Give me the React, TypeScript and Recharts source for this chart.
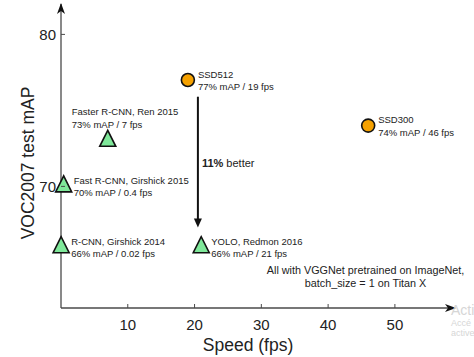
import {
  ScatterChart,
  Scatter,
  XAxis,
  YAxis,
  ReferenceLine,
  ReferenceDot
} from "recharts";

// detectors (speed in fps, VOC2007 test mAP)
const names = [
  "SSD512",
  "SSD300",
  "Faster R-CNN, Ren 2015",
  "Fast R-CNN, Girshick 2015",
  "R-CNN, Girshick 2014",
  "YOLO, Redmon 2016"
];
const details = [
  "77% mAP / 19 fps",
  "74% mAP / 46 fps",
  "73% mAP / 7 fps",
  "70% mAP / 0.4 fps",
  "66% mAP / 0.02 fps",
  "66% mAP / 21 fps"
];
const speeds = [19, 46, 7, 0.4, 0.02, 21];
const maps = [77, 74, 73, 70, 66, 66];
const isSSD = [true, true, false, false, false, false];

const xTicks = [10, 20, 30, 40, 50];
const yTicks = [70, 80];
const noteLines = [
  "All with VGGNet pretrained on ImageNet,",
  "batch_size = 1 on Titan X"
];
// faint leftover overlay text at the right edge
const watermark = ["Acti", "Accé", "active"];

const rows = names.map((name, i) => ({
  name,
  detail: details[i],
  speed: speeds[i],
  map: maps[i]
}));
const ssdRows = rows.filter((_, i) => isSSD[i]);
const otherRows = rows.filter((_, i) => !isSSD[i]);

const FONT = '"Liberation Sans", Arial, sans-serif';
const AXIS = "#4a4a4a";

// label placement (Faster R-CNN sits above its marker)
const labelPos = (name) =>
  name === "Faster R-CNN, Ren 2015" ? { dx: -36, dy: -29 } : { dx: 10, dy: -6 };

const PointLabel = ({ cx, cy, payload }) => {
  const { dx, dy } = labelPos(payload.name);
  return (
    <g fontFamily={FONT} fontSize={9.5} fill="#222">
      <text x={cx + dx} y={cy + dy} dominantBaseline="central">{payload.name}</text>
      <text x={cx + dx} y={cy + dy + 12.5} dominantBaseline="central">{payload.detail}</text>
    </g>
  );
};

const CircleShape = (props) => {
  const { cx, cy } = props;
  return (
    <g>
      <circle cx={cx} cy={cy} r={6.5} fill="#f5a100" stroke="#111" strokeWidth={1.6} />
      <PointLabel {...props} />
    </g>
  );
};

const TriangleShape = (props) => {
  const { cx, cy } = props;
  return (
    <g>
      <polygon
        points={`${cx},${cy - 10.5} ${cx - 8},${cy + 5.5} ${cx + 8},${cy + 5.5}`}
        fill="#7fe89a"
        stroke="#111"
        strokeWidth={1.6}
        strokeLinejoin="miter"
      />
      <PointLabel {...props} />
    </g>
  );
};

const XTick = ({ x, y, payload }) => (
  <g>
    <line x1={x} x2={x} y1={y} y2={y - 4} stroke={AXIS} strokeWidth={1} />
    <text x={x} y={y + 21.5} textAnchor="middle" fontFamily={FONT} fontSize={15} fill="#222">
      {payload.value}
    </text>
  </g>
);

const YTick = ({ x, y, payload }) => (
  <g>
    <line x1={x} x2={x + 4} y1={y} y2={y} stroke={AXIS} strokeWidth={1} />
    <text x={x - 5} y={y + 5.5} textAnchor="end" fontFamily={FONT} fontSize={15} fill="#222">
      {payload.value}
    </text>
  </g>
);

const XLabel = ({ viewBox }) => (
  <text
    x={viewBox.x + viewBox.width / 2 - 10}
    y={viewBox.y + 43}
    textAnchor="middle"
    fontFamily={FONT}
    fontSize={17.5}
    fill="#222"
  >
    Speed (fps)
  </text>
);

const YLabel = ({ viewBox }) => {
  const cx = viewBox.x + 28;
  const cy = viewBox.y + viewBox.height / 2 + 7;
  return (
    <text
      x={cx}
      y={cy}
      transform={`rotate(-90 ${cx} ${cy})`}
      textAnchor="middle"
      dominantBaseline="central"
      fontFamily={FONT}
      fontSize={17.5}
      fill="#222"
    >
      VOC2007 test mAP
    </text>
  );
};

const BetterArrow = ({ x1, y1, x2, y2 }) => {
  const midY = (y1 + y2) / 2;
  return (
    <g>
      <line x1={x1} y1={y1} x2={x2} y2={y2 - 8} stroke="#111" strokeWidth={2} />
      <polygon points={`${x2},${y2} ${x2 - 4},${y2 - 9} ${x2 + 4},${y2 - 9}`} fill="#111" />
      <text x={x1 + 4} y={midY + 1} dominantBaseline="central" fontFamily={FONT} fontSize={11} fill="#222">
        <tspan fontWeight="bold">11%</tspan> better
      </text>
    </g>
  );
};

const Note = ({ cx, cy }) => (
  <g fontFamily={FONT} fontSize={10.8} fill="#222" textAnchor="middle">
    <text x={cx} y={cy - 6.5} dominantBaseline="central">{noteLines[0]}</text>
    <text x={cx} y={cy + 6.5} dominantBaseline="central">{noteLines[1]}</text>
  </g>
);

const RightArrowHead = ({ cx, cy }) => (
  <polygon points={`${cx + 1},${cy} ${cx - 10},${cy - 4} ${cx - 7},${cy} ${cx - 10},${cy + 4}`} fill="#111" />
);

const UpArrowHead = ({ cx, cy }) => (
  <polygon points={`${cx},${cy - 1} ${cx - 4},${cy + 10} ${cx},${cy + 7} ${cx + 4},${cy + 10}`} fill="#111" />
);

export default function App() {
  return (
    <div style={{ position: "absolute", left: 0, top: 0, width: 474, height: 357, background: "#fff", overflow: "hidden" }}>
      <ScatterChart width={474} height={357} margin={{ top: 4, right: 19, bottom: 0, left: 0 }}>
        <XAxis
          type="number"
          dataKey="speed"
          domain={[0, 59]}
          ticks={xTicks}
          height={49}
          tickSize={0}
          tickMargin={0}
          tick={XTick}
          tickLine={false}
          axisLine={{ stroke: AXIS, strokeWidth: 1.3 }}
          label={<XLabel />}
        />
        <YAxis
          type="number"
          dataKey="map"
          domain={[62, 82]}
          ticks={yTicks}
          width={61}
          tickSize={0}
          tickMargin={0}
          tick={YTick}
          tickLine={false}
          axisLine={{ stroke: AXIS, strokeWidth: 1.3 }}
          label={<YLabel />}
        />
        <ReferenceDot x={59} y={62} r={0} ifOverflow="visible" shape={RightArrowHead} />
        <ReferenceDot x={0} y={82} r={0} ifOverflow="visible" shape={UpArrowHead} />
        <ReferenceLine
          segment={[{ x: 20.5, y: 75.9 }, { x: 20.5, y: 67.3 }]}
          ifOverflow="visible"
          shape={BetterArrow}
        />
        <ReferenceDot x={45.6} y={64.1} r={0} ifOverflow="visible" shape={Note} />
        <Scatter data={otherRows} shape={TriangleShape} isAnimationActive={false} />
        <Scatter data={ssdRows} shape={CircleShape} isAnimationActive={false} />
      </ScatterChart>
      <div style={{ position: "absolute", left: 451, top: 302, fontFamily: FONT, color: "#d6d6d6", whiteSpace: "nowrap", lineHeight: 1.15 }}>
        <div style={{ fontSize: 14 }}>{watermark[0]}</div>
        <div style={{ fontSize: 9 }}>{watermark[1]}</div>
        <div style={{ fontSize: 9 }}>{watermark[2]}</div>
      </div>
    </div>
  );
}
